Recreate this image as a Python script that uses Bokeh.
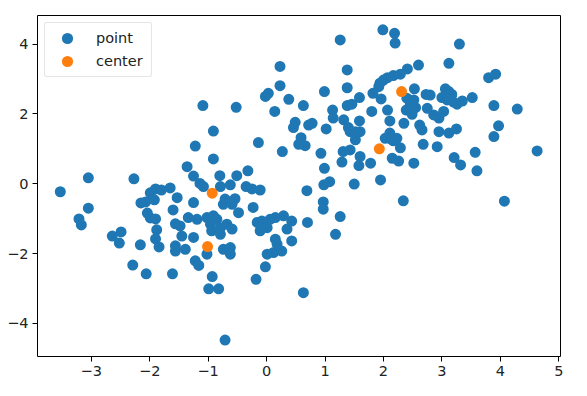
from bokeh.plotting import figure
from bokeh.models import Range1d, FixedTicker, ColumnDataSource
from bokeh.embed import file_html
from bokeh.resources import INLINE

# blue "point" series
point_x = [
    -3.53, -3.05, -3.05, -3.21, -3.17, -2.64, -2.49, -2.52, -2.27, -2.16, -2.29, -2.06, -1.61,
    -2.15, -2.07, -1.99, -1.90, -1.80, -1.92, -2.04, -1.99, -1.90, -1.88, -1.90, -1.84, -1.60,
    -1.56, -1.56, -1.56, -1.65, -1.53,
    0.23, 0.23, -0.02, 0.03, 0.38, -1.09, -0.52, 0.14, 0.63, 0.49, 0.46, 0.72, -0.91, -1.22,
    -0.14, 0.59, 0.55, 0.66, 0.27, -0.91, -1.36, -1.25, -1.14, -1.08, -0.80, -0.51, -0.32,
    -0.62, -0.79, -0.35, -0.25, -0.11, 0.69,
    -1.25, -0.71, -0.54, -0.74, -0.59, -0.48, -0.23, -1.34, -1.19, -1.02, -0.91, -0.85, -0.96,
    -0.94, -0.79, -0.68, -0.59, -0.79, -1.48, -1.45, -1.39, -1.25, -1.02, -0.74, -0.62, -0.62,
    -1.22, -1.16, -0.93, -0.99, -0.82, -0.18, -0.02, 0.01, 0.12, 0.26, 0.15, 0.18, 0.43, 0.35,
    0.43, 0.29, 0.06, -0.08, -0.16, -0.11, 0.01, 0.15, 0.63, -0.71, 0.70,
    0.97, 0.97, 1.26, 1.18, 2.34, 4.07,
    1.99, 2.19, 2.20, 1.26, 1.38, 2.60, 2.41, 2.29, 2.17, 2.07, 2.00, 1.94, 1.92, 1.38, 0.99,
    1.59, 1.82, 1.96, 2.53, 2.73, 2.40, 2.52, 2.46, 2.55, 2.39, 2.49, 2.75, 2.86, 2.95, 1.38,
    1.46, 1.13, 1.80, 2.07, 1.14, 1.32, 0.78, 1.02, 1.59, 1.60, 1.52, 1.40, 1.43, 2.11, 2.35,
    2.62, 2.66, 2.95, 1.52, 2.11, 2.03, 2.13, 2.23, 2.29, 2.17, 2.68, 2.92, 1.31, 1.43, 1.60,
    1.58, 0.93, 1.29, 0.99, 1.78, 2.15, 2.26, 2.52, 0.98, 1.08, 1.50, 1.95,
    3.30, 3.12, 3.80, 3.92, 2.80, 3.06, 3.12, 3.17, 3.00, 3.09, 3.20, 3.26, 3.35, 3.52, 3.03,
    3.89, 4.29, 3.97, 3.89, 3.12, 3.25, 3.21, 3.32, 3.57, 3.60, 4.63,
]
point_y = [
    -0.23, 0.17, -0.70, -1.01, -1.18, -1.50, -1.38, -1.70, 0.14, -1.75, -2.33, -2.58, -2.58,
    -0.55, -0.52, -0.26, -0.15, -0.18, -0.46, -0.84, -0.98, -1.01, -1.32, -1.58, -1.81, -0.75,
    -1.15, -1.78, -1.93, -0.12, -0.40,
    3.36, 2.81, 2.50, 2.59, 2.42, 2.24, 2.19, 2.07, 2.24, 1.76, 1.61, 1.68, 1.51, 1.08,
    1.18, 1.32, 1.13, 1.09, 0.92, 0.71, 0.49, 0.22, 0.01, -0.08, 0.23, 0.23, 0.37,
    -0.03, -0.08, -0.08, -0.15, -0.18, -0.20,
    -0.54, -0.44, -0.43, -0.59, -0.59, -0.83, -0.68, -0.97, -1.02, -0.97, -0.92, -1.02, -1.16,
    -1.35, -1.26, -1.16, -1.30, -1.45, -1.21, -1.50, -1.88, -1.54, -2.02, -1.88, -1.83, -2.02,
    -2.21, -2.34, -2.66, -3.01, -3.01, -2.74, -2.38, -2.02, -1.97, -1.93, -1.59, -1.73, -1.64, -1.30,
    -1.07, -0.92, -1.02, -1.07, -1.11, -1.35, -1.26, -0.97, -3.12, -4.48, -1.11,
    -0.52, -0.73, -0.94, -1.45, -0.49, -0.50,
    4.41, 4.31, 4.03, 4.12, 3.26, 3.40, 3.29, 3.14, 3.10, 3.04, 2.97, 2.88, 2.78, 2.75, 2.64,
    2.47, 2.59, 2.43, 2.72, 2.56, 2.45, 2.40, 2.26, 2.18, 2.11, 1.99, 2.16, 1.97, 1.88, 2.24,
    2.28, 2.11, 2.07, 2.11, 1.88, 1.83, 1.73, 1.57, 1.80, 1.49, 1.49, 1.61, 1.49, 1.80, 1.73,
    1.68, 1.54, 1.49, 1.26, 1.45, 1.30, 1.28, 1.30, 1.03, 1.23, 1.13, 1.06, 0.92, 0.97, 0.78,
    0.52, 0.87, 0.62, 0.44, 0.59, 0.73, 0.65, 0.59, -0.03, 0.06, -0.01, 0.11,
    4.00, 3.45, 3.04, 3.14, 2.54, 2.72, 2.64, 2.56, 2.47, 2.40, 2.34, 2.28, 2.37, 2.47, 2.07,
    2.24, 2.14, 1.66, 1.35, 1.45, 1.57, 0.75, 0.54, 0.90, 0.37, 0.94,
]

# orange "center" series
center_x = [-0.93, -1.01, 2.31, 1.93]
center_y = [-0.27, -1.80, 2.64, 1.00]

x_ticks = [-3, -2, -1, 0, 1, 2, 3, 4, 5]
y_ticks = [-4, -2, 0, 2, 4]

FONT = "DejaVu Sans"
FSIZE = "14.5px"
BLUE = "#1f77b4"
ORANGE = "#ff7f0e"

p = figure(width=587, height=396,
           x_range=Range1d(-3.92, 5.03), y_range=Range1d(-4.95, 4.82),
           output_backend="svg", toolbar_location=None,
           min_border_left=37, min_border_right=27,
           min_border_top=15, min_border_bottom=40)

p.xgrid.visible = False
p.ygrid.visible = False
p.outline_line_color = "black"
p.outline_line_width = 1
p.outline_line_alpha = 1.0
p.background_fill_color = "white"

def lab(t):
    return ("\u2212" + str(-t)) if t < 0 else str(t)

p.xaxis.ticker = FixedTicker(ticks=x_ticks)
p.yaxis.ticker = FixedTicker(ticks=y_ticks)
p.xaxis.major_label_overrides = {t: lab(t) for t in x_ticks}
p.yaxis.major_label_overrides = {t: lab(t) for t in y_ticks}

for ax in (p.xaxis[0], p.yaxis[0]):
    ax.axis_line_color = None
    ax.major_tick_out = 5
    ax.major_tick_in = 0
    ax.major_tick_line_color = "black"
    ax.minor_tick_line_color = None
    ax.major_label_text_font = FONT
    ax.major_label_text_font_size = FSIZE
    ax.major_label_text_color = "#222222"
    ax.major_label_standoff = 4

src_p = ColumnDataSource(dict(x=point_x, y=point_y))
src_c = ColumnDataSource(dict(x=center_x, y=center_y))

# size 7 + 4px stroke of same colour -> ~11px dots (also in the legend)
p.scatter("x", "y", source=src_p, size=7, fill_color=BLUE,
          line_color=BLUE, line_width=4, legend_label="point")
p.scatter("x", "y", source=src_c, size=7, fill_color=ORANGE,
          line_color=ORANGE, line_width=4, legend_label="center")

lg = p.legend[0]
lg.location = "top_left"
lg.margin = 7
lg.padding = 6
lg.spacing = 5
lg.glyph_width = 32
lg.glyph_height = 18
lg.label_height = 18
lg.label_width = 49
lg.label_standoff = 13
lg.label_text_font = FONT
lg.label_text_font_size = FSIZE
lg.label_text_color = "#222222"
lg.border_line_color = "#cccccc"
lg.border_line_width = 1
lg.background_fill_alpha = 0.8
if "border_radius" in lg.properties():
    lg.border_radius = 3

open("out.html", "w").write(file_html(p, INLINE))
